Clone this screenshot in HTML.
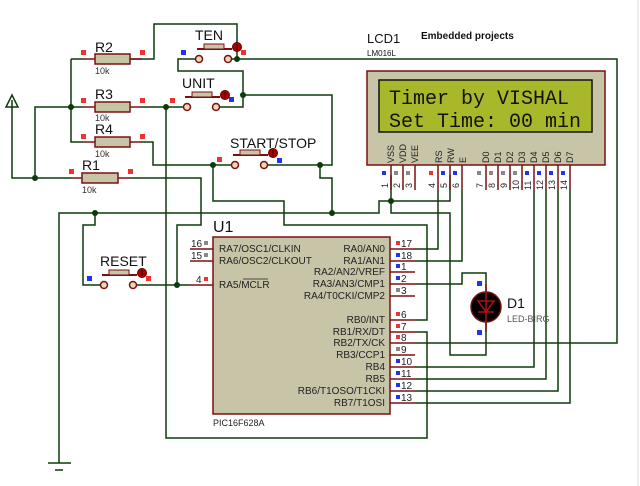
<!DOCTYPE html>
<html><head><meta charset="utf-8"><style>
html,body{margin:0;padding:0;background:#fff;}
svg{display:block;}
text{font-family:"Liberation Sans",sans-serif;}
text.mono{font-family:"Liberation Mono",monospace;}
</style></head><body>
<svg width="640" height="486" viewBox="0 0 640 486" xmlns="http://www.w3.org/2000/svg">
<defs>
<g id="sw">
  <line x1="-2" y1="-10" x2="33" y2="-10" stroke="#7a1010" stroke-width="2"/>
  <rect x="5" y="-15" width="20" height="5" fill="#c8c4a8" stroke="#7a1010" stroke-width="1"/>
  <circle cx="0" cy="0" r="3.5" fill="#e8d8b8" stroke="#7a1010" stroke-width="1.5"/>
  <circle cx="29" cy="0" r="3.5" fill="#e8d8b8" stroke="#7a1010" stroke-width="1.5"/>
  <circle cx="38" cy="-12" r="4.5" fill="#b00000" stroke="#600000" stroke-width="1"/>
  <line x1="38" y1="-15" x2="38" y2="-9" stroke="#200" stroke-width="1"/>
</g>
</defs>
<line x1="638" y1="0" x2="638" y2="486" stroke="#ddd" stroke-width="1"/>

<!-- wires -->
<g fill="none" stroke="#0b3b0b" stroke-width="1.5">
<path d="M130,59 H154 V24 H237 V59"/>
<path d="M228,59 H617 V343 H415"/>
<path d="M199,59 H178 V71 H243 V107 H216"/>
<path d="M243,95 H332 V165 H263"/>
<path d="M320,165 V178 H332 V213"/>
<path d="M71,59 H83 M71,59 V142 H83"/>
<path d="M35,178 V107 H83"/>
<path d="M142,107 H187"/>
<path d="M12,100 V178 H71"/>
<path d="M130,178 H201 V225 H177 V285 H190"/>
<path d="M133,285 H177"/>
<path d="M142,142 H153 V165 H235"/>
<path d="M213,165 V201 H284 V225 H427 V320 H415"/>
<path d="M166,107 V438 H427 V332 H415"/>
<path d="M59,463 V213 H379 V201 H391 V175 M391,201 H450 V175 M391,201 V213 H450 V355 H486 V322"/>
<path d="M95,213 V225 H83 V285 H104"/>
<path d="M415,249 H438 V190 M415,261 H462 V190"/>
<path d="M415,284 H462 V273 H486 V292"/>
<path d="M415,367 H534 V190 M415,379 H546 V190 M415,391 H558 V190 M415,403 H570 V190"/>
<path d="M48,463 H71"/>
</g>
<line x1="55" y1="470" x2="63" y2="470" stroke="#0b3b0b" stroke-width="1.5"/>
<path d="M12,95 L6,107 H18 Z" fill="none" stroke="#0b3b0b" stroke-width="1.5"/>

<g fill="#0b3b0b">
<circle cx="237" cy="59" r="3"/><circle cx="243" cy="95" r="3"/><circle cx="71" cy="107" r="3"/>
<circle cx="166" cy="107" r="3"/><circle cx="35" cy="178" r="3"/><circle cx="213" cy="165" r="3"/>
<circle cx="320" cy="165" r="3"/><circle cx="332" cy="213" r="3"/><circle cx="95" cy="213" r="3"/>
<circle cx="177" cy="285" r="3"/><circle cx="391" cy="201" r="3"/>
</g>

<g stroke="#7a1010" stroke-width="1.5">
<line x1="83" y1="59" x2="142" y2="59"/><line x1="83" y1="107" x2="142" y2="107"/>
<line x1="83" y1="142" x2="142" y2="142"/><line x1="71" y1="178" x2="130" y2="178"/>
</g>
<g fill="#c8c4a8" stroke="#7a1010" stroke-width="1.5">
<rect x="95" y="54" width="35" height="10"/><rect x="95" y="102" width="35" height="10"/>
<rect x="95" y="137" width="35" height="10"/><rect x="82" y="173" width="36" height="10"/>
</g>
<g fill="#ee3333">
<rect x="81" y="50" width="5" height="5"/><rect x="140" y="50" width="5" height="5"/>
<rect x="81" y="98" width="5" height="5"/><rect x="140" y="98" width="5" height="5"/>
<rect x="81" y="134" width="5" height="5"/><rect x="140" y="134" width="5" height="5"/>
<rect x="69" y="169" width="5" height="5"/><rect x="128" y="169" width="5" height="5"/>
<rect x="170" y="98" width="5" height="5"/><rect x="241" y="50" width="5" height="5"/>
<rect x="217" y="157" width="5" height="5"/><rect x="146" y="276" width="5" height="5"/>
</g>
<g fill="#2233ee">
<rect x="181" y="50" width="5" height="5"/><rect x="229" y="97" width="5" height="5"/>
<rect x="277" y="158" width="5" height="5"/><rect x="87" y="276" width="5" height="5"/>
</g>
<g font-size="14" fill="#111">
<text x="95" y="52">R2</text><text x="95" y="99">R3</text><text x="95" y="134">R4</text><text x="82" y="170">R1</text>
</g>
<g font-size="9" fill="#333">
<text x="95" y="74">10k</text><text x="95" y="121">10k</text><text x="95" y="157">10k</text><text x="82" y="193">10k</text>
</g>

<use href="#sw" x="199" y="59"/>
<use href="#sw" x="187" y="107"/>
<use href="#sw" x="235" y="165"/>
<use href="#sw" x="104" y="285"/>
<g font-size="14" fill="#111">
<text x="195" y="40">TEN</text><text x="182" y="88">UNIT</text>
<text x="230" y="148">START/STOP</text><text x="100" y="266">RESET</text>
</g>

<text x="367" y="43" font-size="13" fill="#111">LCD1</text>
<text x="367" y="56" font-size="8" fill="#111">LM016L</text>
<text x="421" y="39" font-size="10" fill="#111" font-weight="bold">Embedded projects</text>
<rect x="367" y="71" width="238" height="94" fill="#c8c4a8" stroke="#7a1010" stroke-width="1.5"/>
<rect x="379" y="80" width="213" height="52" fill="#a9b82a" stroke="#111" stroke-width="1.5"/>
<text class="mono" x="389" y="104" style="font-family:'Liberation Mono',monospace;font-size:20px" fill="#111">Timer by VISHAL</text>
<text class="mono" x="389" y="127" style="font-family:'Liberation Mono',monospace;font-size:20px" fill="#111">Set Time: 00 min</text>
<g stroke="#7a1010" stroke-width="1.5">
<path d="M391,165 V190 M403,165 V190 M415,165 V190 M438,165 V190 M450,165 V190 M462,165 V190 M486,165 V190 M498,165 V190 M510,165 V190 M522,165 V190 M534,165 V190 M546,165 V190 M558,165 V190 M570,165 V190"/>
</g>
<g font-size="9" fill="#222">
<text transform="translate(394,163) rotate(-90)">VSS</text>
<text transform="translate(406,163) rotate(-90)">VDD</text>
<text transform="translate(418,163) rotate(-90)">VEE</text>
<text transform="translate(442,163) rotate(-90)">RS</text>
<text transform="translate(454,163) rotate(-90)">RW</text>
<text transform="translate(466,163) rotate(-90)">E</text>
<text transform="translate(489,163) rotate(-90)">D0</text>
<text transform="translate(501,163) rotate(-90)">D1</text>
<text transform="translate(513,163) rotate(-90)">D2</text>
<text transform="translate(525,163) rotate(-90)">D3</text>
<text transform="translate(537,163) rotate(-90)">D4</text>
<text transform="translate(549,163) rotate(-90)">D5</text>
<text transform="translate(561,163) rotate(-90)">D6</text>
<text transform="translate(573,163) rotate(-90)">D7</text>
</g>
<g font-size="9" fill="#222">
<text transform="translate(388,188) rotate(-90)">1</text><text transform="translate(400,188) rotate(-90)">2</text>
<text transform="translate(412,188) rotate(-90)">3</text><text transform="translate(435,188) rotate(-90)">4</text>
<text transform="translate(447,188) rotate(-90)">5</text><text transform="translate(459,188) rotate(-90)">6</text>
<text transform="translate(483,188) rotate(-90)">7</text><text transform="translate(495,188) rotate(-90)">8</text>
<text transform="translate(507,188) rotate(-90)">9</text><text transform="translate(519,190) rotate(-90)">10</text>
<text transform="translate(531,190) rotate(-90)">11</text><text transform="translate(543,190) rotate(-90)">12</text>
<text transform="translate(555,190) rotate(-90)">13</text><text transform="translate(567,190) rotate(-90)">14</text>
</g>
<g>
<rect x="382" y="171" width="4" height="4" fill="#2233ee"/><rect x="394" y="171" width="4" height="4" fill="#888"/>
<rect x="406" y="171" width="4" height="4" fill="#888"/><rect x="429" y="171" width="4" height="4" fill="#ee3333"/>
<rect x="441" y="171" width="4" height="4" fill="#2233ee"/><rect x="453" y="171" width="4" height="4" fill="#2233ee"/>
<rect x="477" y="171" width="4" height="4" fill="#888"/><rect x="489" y="171" width="4" height="4" fill="#888"/>
<rect x="501" y="171" width="4" height="4" fill="#888"/><rect x="513" y="171" width="4" height="4" fill="#888"/>
<rect x="525" y="171" width="4" height="4" fill="#2233ee"/><rect x="537" y="171" width="4" height="4" fill="#2233ee"/>
<rect x="549" y="171" width="4" height="4" fill="#2233ee"/><rect x="561" y="171" width="4" height="4" fill="#2233ee"/>
</g>

<text x="213" y="232" font-size="16" fill="#111">U1</text>
<rect x="213" y="237" width="177" height="177" fill="#c8c4a8" stroke="#7a1010" stroke-width="1.5"/>
<text x="213" y="426" font-size="9" fill="#222">PIC16F628A</text>
<g stroke="#7a1010" stroke-width="1.5">
<path d="M190,249 H213 M190,261 H213 M190,285 H213"/>
<path d="M390,249 H415 M390,261 H415 M390,272 H415 M390,284 H415 M390,296 H415 M390,320 H415 M390,332 H415 M390,343 H415 M390,355 H415 M390,367 H415 M390,379 H415 M390,391 H415 M390,403 H415"/>
</g>
<g font-size="10" fill="#222">
<text x="219" y="252">RA7/OSC1/CLKIN</text>
<text x="219" y="264">RA6/OSC2/CLKOUT</text>
<text x="219" y="288">RA5/MCLR</text>
<line x1="243" y1="279" x2="268" y2="279" stroke="#222" stroke-width="0.8"/>
</g>
<g font-size="10" fill="#222" text-anchor="end">
<text x="385" y="252">RA0/AN0</text><text x="385" y="264">RA1/AN1</text>
<text x="385" y="275">RA2/AN2/VREF</text><text x="385" y="287">RA3/AN3/CMP1</text>
<text x="385" y="299">RA4/T0CKI/CMP2</text><text x="385" y="323">RB0/INT</text>
<text x="385" y="335">RB1/RX/DT</text><text x="385" y="346">RB2/TX/CK</text>
<text x="385" y="358">RB3/CCP1</text><text x="385" y="370">RB4</text>
<text x="385" y="382">RB5</text><text x="385" y="394">RB6/T1OSO/T1CKI</text>
<text x="385" y="406">RB7/T1OSI</text>
</g>
<g font-size="10" fill="#222">
<text x="191" y="247">16</text><text x="191" y="259">15</text><text x="196" y="283">4</text>
<text x="401" y="247">17</text><text x="401" y="259">18</text><text x="401" y="270">1</text>
<text x="401" y="282">2</text><text x="401" y="294">3</text><text x="401" y="318">6</text>
<text x="401" y="330">7</text><text x="401" y="341">8</text><text x="401" y="353">9</text>
<text x="401" y="365">10</text><text x="401" y="377">11</text><text x="401" y="389">12</text>
<text x="401" y="401">13</text>
</g>
<g>
<rect x="204" y="241" width="4" height="4" fill="#888"/><rect x="204" y="253" width="4" height="4" fill="#888"/>
<rect x="204" y="277" width="4" height="4" fill="#ee3333"/>
<rect x="396" y="241" width="4" height="4" fill="#ee3333"/><rect x="396" y="253" width="4" height="4" fill="#2233ee"/>
<rect x="396" y="264" width="4" height="4" fill="#2233ee"/><rect x="396" y="276" width="4" height="4" fill="#2233ee"/>
<rect x="396" y="288" width="4" height="4" fill="#888"/><rect x="396" y="312" width="4" height="4" fill="#ee3333"/>
<rect x="396" y="324" width="4" height="4" fill="#ee3333"/><rect x="396" y="335" width="4" height="4" fill="#ee3333"/>
<rect x="396" y="347" width="4" height="4" fill="#888"/><rect x="396" y="359" width="4" height="4" fill="#2233ee"/>
<rect x="396" y="371" width="4" height="4" fill="#2233ee"/><rect x="396" y="383" width="4" height="4" fill="#2233ee"/>
<rect x="396" y="395" width="4" height="4" fill="#2233ee"/>
</g>

<line x1="486" y1="284" x2="486" y2="332" stroke="#7a1010" stroke-width="1.5"/>
<circle cx="486" cy="307" r="15" fill="#000" stroke="#7a1010" stroke-width="1.5"/>
<path d="M478,301 H494 L486,312 Z" fill="none" stroke="#b01010" stroke-width="1.5"/>
<line x1="478" y1="312" x2="494" y2="312" stroke="#b01010" stroke-width="1.5"/>
<line x1="486" y1="292" x2="486" y2="322" stroke="#b01010" stroke-width="1.5"/>
<rect x="477" y="281" width="5" height="5" fill="#2233ee"/>
<rect x="477" y="330" width="5" height="5" fill="#2233ee"/>
<text x="507" y="308" font-size="14" fill="#111">D1</text>
<text x="507" y="322" font-size="9" fill="#555">LED-BIRG</text>
</svg>
</body></html>
